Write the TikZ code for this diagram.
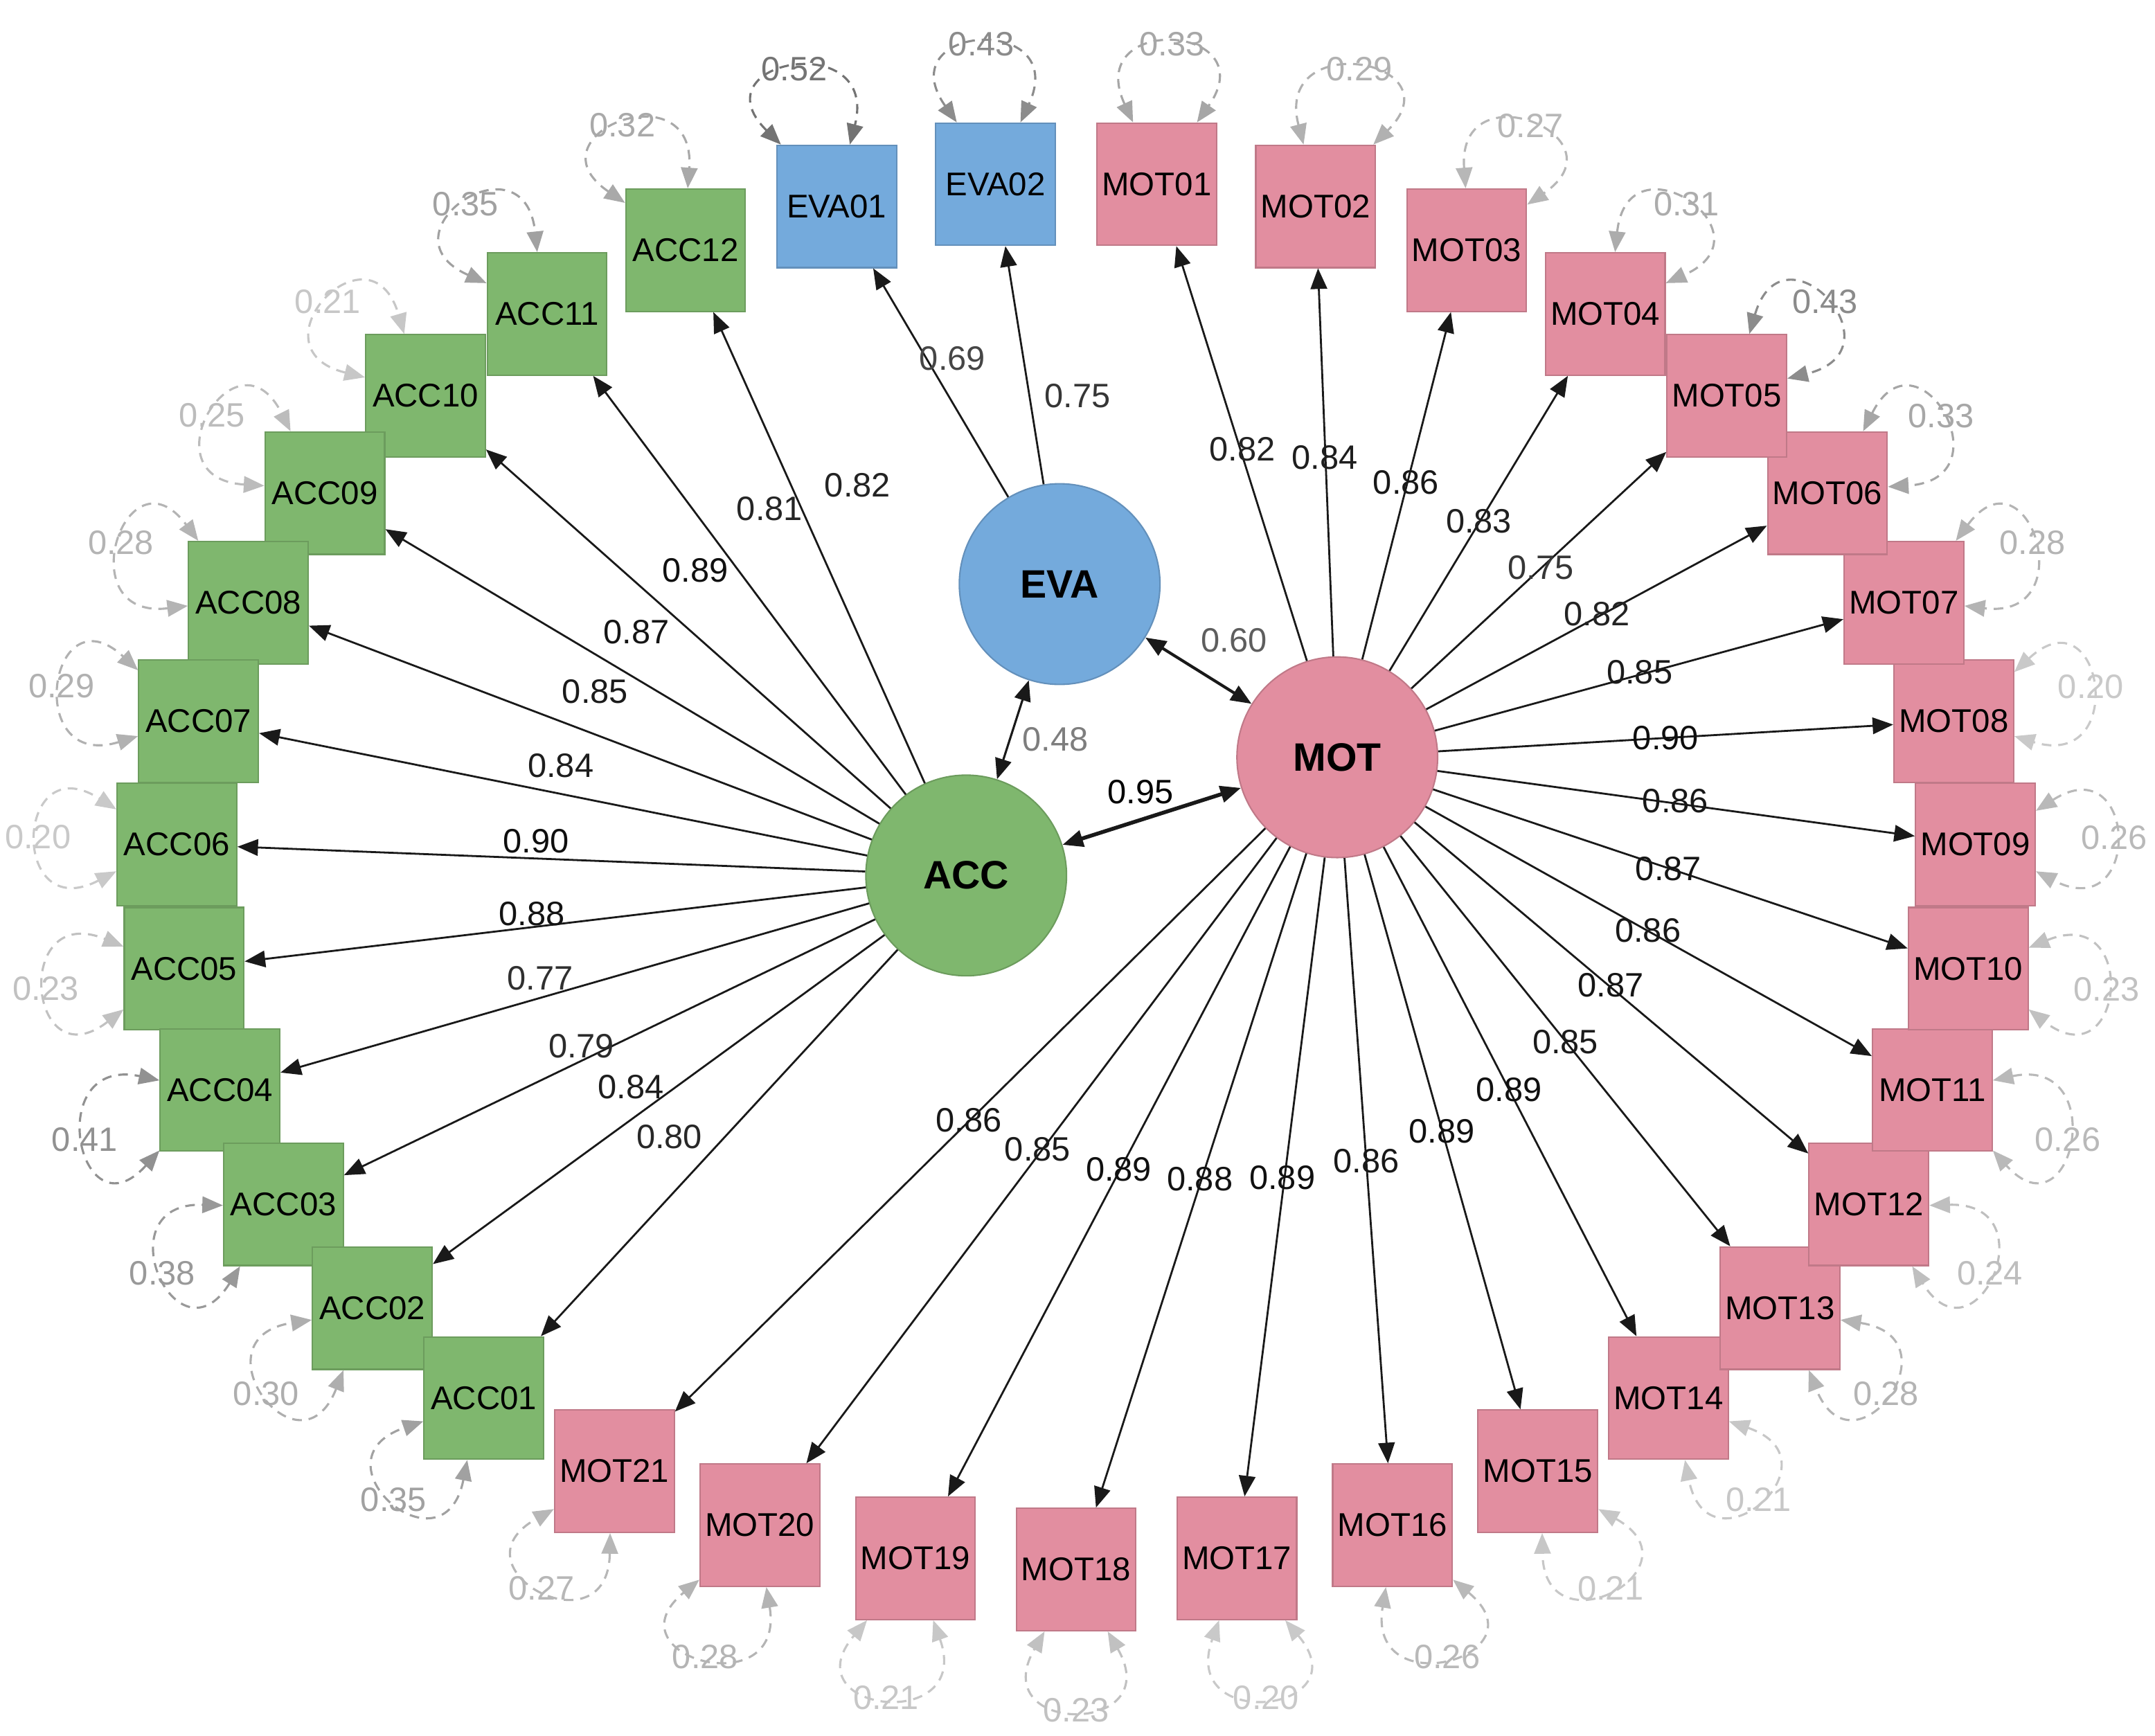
\documentclass[tikz,border=0pt]{standalone}
\usepackage{fontspec}
\setmainfont{Liberation Sans}
\usetikzlibrary{arrows.meta,calc}
\definecolor{accgreen}{RGB}{127,183,110}
\definecolor{evablue}{RGB}{116,170,220}
\definecolor{motpink}{RGB}{226,142,160}
\tikzset{
    item/.style args={#1}{fill=#1, draw=#1!85!black, line width=0.3pt, minimum width=0.87cm, minimum height=0.89cm, inner sep=0pt, font=\fontsize{6.8}{8}\selectfont},
    factor/.style args={#1}{circle, fill=#1, draw=#1!85!black, line width=0.3pt, minimum size=1.46cm, inner sep=0pt, font=\fontsize{8.2}{10}\selectfont\bfseries},
    load/.style={->, line width=0.4pt, draw=black!90},
    cov/.style={<->, draw=black!90},
    resid/.style={<->, dash pattern=on 0.7mm off 0.5mm, line width=0.45pt},
    val/.style={inner sep=0pt, font=\fontsize{7}{8}\selectfont}
}

\begin{document}
\begin{tikzpicture}[>={Triangle[length=1.5mm,width=1.2mm]}]
\useasboundingbox (0,0) rectangle (15.68,12.63);
% latent factors
\node[factor=evablue] (EVA) at (7.71,8.38) {EVA};
\node[factor=motpink] (MOT) at (9.73,7.12) {MOT};
\node[factor=accgreen] (ACC) at (7.03,6.26) {ACC};
% indicators round the ellipse, each with its residual loop
\foreach \k/\name/\col/\res in {0/MOT18/motpink/0.23, 1/MOT17/motpink/0.20, 2/MOT16/motpink/0.26,
    3/MOT15/motpink/0.21, 4/MOT14/motpink/0.21, 5/MOT13/motpink/0.28, 6/MOT12/motpink/0.24,
    7/MOT11/motpink/0.26, 8/MOT10/motpink/0.23, 9/MOT09/motpink/0.26, 10/MOT08/motpink/0.20,
    11/MOT07/motpink/0.28, 12/MOT06/motpink/0.33, 13/MOT05/motpink/0.43, 14/MOT04/motpink/0.31,
    15/MOT03/motpink/0.27, 16/MOT02/motpink/0.29, 17/MOT01/motpink/0.33, 18/EVA02/evablue/0.43,
    19/EVA01/evablue/0.52, 20/ACC12/accgreen/0.32, 21/ACC11/accgreen/0.35, 22/ACC10/accgreen/0.21,
    23/ACC09/accgreen/0.25, 24/ACC08/accgreen/0.28, 25/ACC07/accgreen/0.29, 26/ACC06/accgreen/0.20,
    27/ACC05/accgreen/0.23, 28/ACC04/accgreen/0.41, 29/ACC03/accgreen/0.38, 30/ACC02/accgreen/0.30,
    31/ACC01/accgreen/0.35, 32/MOT21/motpink/0.27, 33/MOT20/motpink/0.28, 34/MOT19/motpink/0.21} {
    \pgfmathsetmacro{\ang}{-90+\k*360/35}
    \pgfmathsetmacro{\angA}{\ang+27}
    \pgfmathsetmacro{\angB}{\ang-27}
    \pgfmathsetmacro{\tone}{\res*100/0.95}
    \node[item=\col] (\name) at ({7.83+6.55*cos(\ang)},{6.26+5.05*sin(\ang)}) {\name};
    \draw[resid, draw=black!\tone]
    (\name.\angA) .. controls +(\ang+30:0.88) and +(\ang-30:0.88) .. (\name.\angB)
    node[val, text=black!\tone, pos=0.5] {\res};
}
% loadings
\foreach \lat/\name/\v/\lx/\ly in {EVA/EVA01/0.69/6.93/10.02, EVA/EVA02/0.75/7.84/9.75,
    ACC/ACC12/0.82/6.24/9.10, ACC/ACC11/0.81/5.60/8.93, ACC/ACC10/0.89/5.06/8.48,
    ACC/ACC09/0.87/4.63/8.03, ACC/ACC08/0.85/4.33/7.60, ACC/ACC07/0.84/4.08/7.06,
    ACC/ACC06/0.90/3.90/6.51, ACC/ACC05/0.88/3.87/5.98, ACC/ACC04/0.77/3.93/5.51,
    ACC/ACC03/0.79/4.23/5.02, ACC/ACC02/0.84/4.59/4.72, ACC/ACC01/0.80/4.87/4.36,
    MOT/MOT01/0.82/9.04/9.36, MOT/MOT02/0.84/9.64/9.30, MOT/MOT03/0.86/10.23/9.12,
    MOT/MOT04/0.83/10.76/8.84, MOT/MOT05/0.75/11.21/8.50, MOT/MOT06/0.82/11.62/8.16,
    MOT/MOT07/0.85/11.93/7.74, MOT/MOT08/0.90/12.12/7.26, MOT/MOT09/0.86/12.19/6.80,
    MOT/MOT10/0.87/12.14/6.31, MOT/MOT11/0.86/11.99/5.86, MOT/MOT12/0.87/11.72/5.46,
    MOT/MOT13/0.85/11.39/5.05, MOT/MOT14/0.89/10.98/4.70, MOT/MOT15/0.89/10.49/4.40,
    MOT/MOT16/0.86/9.94/4.18, MOT/MOT17/0.89/9.33/4.06, MOT/MOT18/0.88/8.73/4.05,
    MOT/MOT19/0.89/8.14/4.12, MOT/MOT20/0.85/7.55/4.27, MOT/MOT21/0.86/7.05/4.48} {
    \pgfmathsetmacro{\tone}{\v*100/0.95}
    \draw[load] (\lat) -- (\name)
    node[val, text=black!\tone, at={(\lx,\ly)}] {\v};
}
% factor covariances
\draw[cov, line width=0.45pt] (EVA) -- (ACC)
node[val, text=black!50.5, at={(7.68,7.25)}] {0.48};
\draw[cov, line width=0.6pt] (EVA) -- (MOT)
node[val, text=black!63.2, at={(8.98,7.97)}] {0.60};
\draw[cov, line width=0.8pt] (ACC) -- (MOT)
node[val, at={(8.30,6.87)}] {0.95};
\end{tikzpicture}
\end{document}
